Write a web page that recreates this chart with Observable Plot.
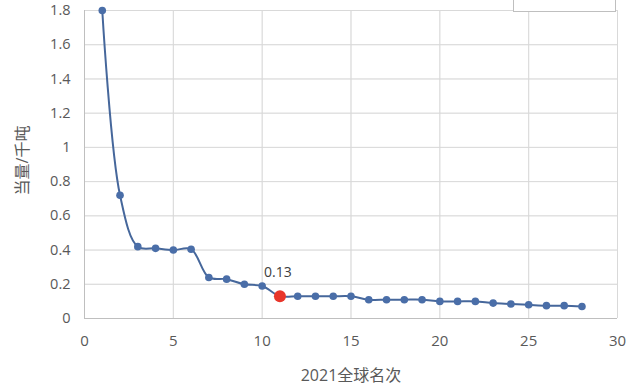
<!DOCTYPE html>
<html><head><meta charset="utf-8">
<script src="https://cdn.jsdelivr.net/npm/d3@7"></script>
<script src="https://cdn.jsdelivr.net/npm/@observablehq/plot@0.6"></script>
<style>
body{margin:0;background:#fff;}
#wrap{position:relative;width:640px;height:388px;}
#legendbox{position:absolute;left:513px;top:-2px;width:101px;height:12px;border:1px solid #bfbfbf;background:#fff;}
</style>
</head><body>
<div id="wrap"><div id="chart"></div><div id="legendbox"></div></div>
<script>
const ranks = [1,2,3,4,5,6,7,8,9,10,11,12,13,14,15,16,17,18,19,20,21,22,23,24,25,26,27,28];
const values = [1.8,0.72,0.42,0.41,0.40,0.405,0.24,0.23,0.20,0.19,0.13,0.13,0.13,0.13,0.13,0.11,0.11,0.11,0.11,0.10,0.10,0.10,0.09,0.085,0.08,0.075,0.075,0.07];
const highlightRank = 11;
const highlightLabel = "0.13";
const xTicks = [0,5,10,15,20,25,30];
const yTicks = [0,0.2,0.4,0.6,0.8,1,1.2,1.4,1.6,1.8];
const xLabel = "2021全球名次";
const yLabel = "当量/千吨";

const data = ranks.map((r,i)=>({rank:r, value:values[i]}));
const hi = data.filter(d=>d.rank===highlightRank);

const font = "'Open Sans','Noto Sans CJK SC',sans-serif";
const chart = Plot.plot({
  width:640, height:388,
  marginLeft:84, marginRight:23, marginTop:10, marginBottom:70,
  style:{fontFamily:font, fontSize:"15px", color:"#595959", background:"#fff"},
  x:{domain:[0,30], ticks:xTicks, grid:true, label:null},
  y:{domain:[0,1.8], ticks:yTicks, grid:true, label:null},
  marks:[
    Plot.gridX(xTicks,{stroke:"#d9d9d9", strokeOpacity:1, strokeWidth:1}),
    Plot.gridY(yTicks,{stroke:"#d9d9d9", strokeOpacity:1, strokeWidth:1}),
    Plot.ruleX([0],{stroke:"#bfbfbf"}),
    Plot.ruleY([0],{stroke:"#bfbfbf"}),
    Plot.axisX({ticks:xTicks, tickSize:0, tickPadding:17, fontSize:15, fill:"#595959", label:null}),
    Plot.axisY({ticks:yTicks, tickSize:0, tickPadding:14, fontSize:14.5, fill:"#595959", label:null, tickFormat:d=>String(+d.toFixed(1))}),
    Plot.line(data,{x:"rank", y:"value", stroke:"#46679b", strokeWidth:2, curve:"catmull-rom"}),
    Plot.dot(data,{x:"rank", y:"value", r:3.8, fill:"#4a6ea8", stroke:"none"}),
    Plot.dot(hi,{x:"rank", y:"value", r:6, fill:"#e8362b", stroke:"none"}),
    Plot.text(hi,{x:"rank", y:"value", text:()=>highlightLabel, dy:-24, dx:-2, fontSize:14, fill:"#404040"}),
    Plot.text([xLabel],{frameAnchor:"bottom", dy:62, fontSize:16, fill:"#595959"}),
    Plot.text([yLabel],{frameAnchor:"left", textAnchor:"middle", dx:-62, dy:-4, rotate:-90, fontSize:16, fill:"#595959"})
  ]
});
document.getElementById("chart").appendChild(chart);
</script>
</body></html>
